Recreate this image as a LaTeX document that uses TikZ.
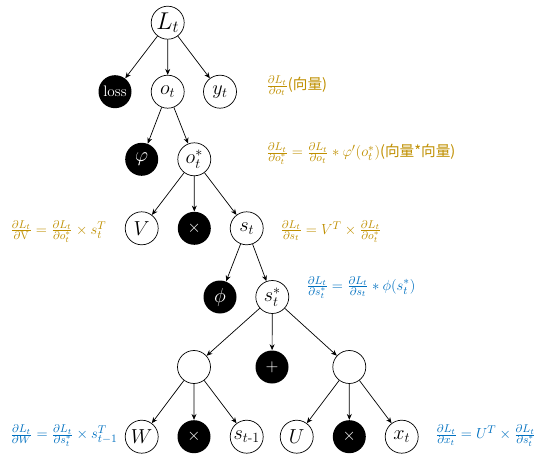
\RequirePackage{fix-cm}
\documentclass[tikz,border=0pt]{standalone}
\usepackage{amsmath}
\usepackage{fontspec}
\usetikzlibrary{arrows.meta}
\newfontfamily\cjk{Noto Sans CJK SC}
\DeclareMathSizes{12.5}{12.5}{9.6}{7}
\definecolor{eqorange}{RGB}{191,143,0}
\definecolor{eqblue}{RGB}{0,112,192}
\begin{document}
\begin{tikzpicture}[>={Stealth[length=5pt,width=4.2pt]}, line width=0.6pt, scale=0.3,
    vnode/.style={circle, draw, minimum size=9.9mm, inner sep=0pt, font=\LARGE},
    opnode/.style={circle, fill=black, text=white, minimum size=9.9mm, inner sep=0pt, font=\Large},
    eqo/.style={anchor=west, inner sep=0pt, text=eqorange, font=\fontsize{12.5}{15}\selectfont},
    eqb/.style={eqo, text=eqblue}]
                  \useasboundingbox (0,0) rectangle (54.8,46.6);
                  \node [vnode,font=\huge] (L) at (16.77,44.33) {$L_t$};
                  \node [opnode,font=\fontsize{13}{15}\selectfont] (loss) at (11.5,37.43) {loss};
                  \node [vnode] (o) at (16.77,37.43) {$o_t$};
                  \node [vnode] (y) at (22.0,37.43) {$y_t$};
                  \node [opnode,font=\LARGE] (vphi) at (14.17,30.67) {$\varphi$};
                  \node [vnode] (ostar) at (19.43,30.67) {$o_t^*$};
                  \node [vnode] (V) at (14.17,23.77) {$V$};
                  \node [opnode] (timesV) at (19.43,23.77) {$\times$};
                  \node [vnode] (s) at (24.67,23.77) {$s_t$};
                  \node [opnode,font=\LARGE] (phi) at (22.0,16.9) {$\phi$};
                  \node [vnode] (sstar) at (27.23,16.9) {$s_t^*$};
                  \node [vnode] (Ws) at (19.4,9.9) {};
                  \node [opnode] (plus) at (27.2,9.9) {$+$};
                  \node [vnode] (Ux) at (34.93,9.9) {};
                  \node [vnode] (W) at (14.17,2.93) {$W$};
                  \node [opnode] (timesW) at (19.4,2.93) {$\times$};
                  \node [vnode] (sprev) at (24.67,2.93) {$s_{t\text{-}1}$};
                  \node [vnode] (U) at (29.67,2.93) {$U$};
                  \node [opnode] (timesU) at (34.93,2.93) {$\times$};
                  \node [vnode] (x) at (40.17,2.93) {$x_t$};
                  \draw [->] (L) -- (loss);
                  \draw [->] (L) -- (o);
                  \draw [->] (L) -- (y);
                  \draw [->] (o) -- (vphi);
                  \draw [->] (o) -- (ostar);
                  \draw [->] (ostar) -- (V);
                  \draw [->] (ostar) -- (timesV);
                  \draw [->] (ostar) -- (s);
                  \draw [->] (s) -- (phi);
                  \draw [->] (s) -- (sstar);
                  \draw [->] (sstar) -- (Ws);
                  \draw [->] (sstar) -- (plus);
                  \draw [->] (sstar) -- (Ux);
                  \draw [->] (Ws) -- (W);
                  \draw [->] (Ws) -- (timesW);
                  \draw [->] (Ws) -- (sprev);
                  \draw [->] (Ux) -- (U);
                  \draw [->] (Ux) -- (timesU);
                  \draw [->] (Ux) -- (x);
                  \node [eqo] (dLdo) at (26.6,38.0) {$\frac{\partial L_t}{\partial o_t}${\cjk (向量)}};
                  \node [eqo] (dLdostar) at (26.6,31.2) {$\frac{\partial L_t}{\partial o_t^*}=\frac{\partial L_t}{\partial o_t}\ast\varphi'(o_t^*)${\cjk (向量*向量)}};
                  \node [eqo] (dLdV) at (1.0,23.43) {$\frac{\partial L_t}{\partial \mathrm{V}}=\frac{\partial L_t}{\partial o_t^*}\times s_t^T$};
                  \node [eqo] (dLds) at (28.0,23.43) {$\frac{\partial L_t}{\partial s_t}=V^T\times\frac{\partial L_t}{\partial o_t^*}$};
                  \node [eqb] (dLdsstar) at (30.6,17.85) {$\frac{\partial L_t}{\partial s_t^*}=\frac{\partial L_t}{\partial s_t}\ast\phi(s_t^*)$};
                  \node [eqb] (dLdW) at (1.0,3.0) {$\frac{\partial L_t}{\partial W}=\frac{\partial L_t}{\partial s_t^*}\times s_{t-1}^T$};
                  \node [eqb] (dLdx) at (43.5,3.0) {$\frac{\partial L_t}{\partial x_t}=U^T\times\frac{\partial L_t}{\partial s_t^*}$};
              \end{tikzpicture}
\end{document}
